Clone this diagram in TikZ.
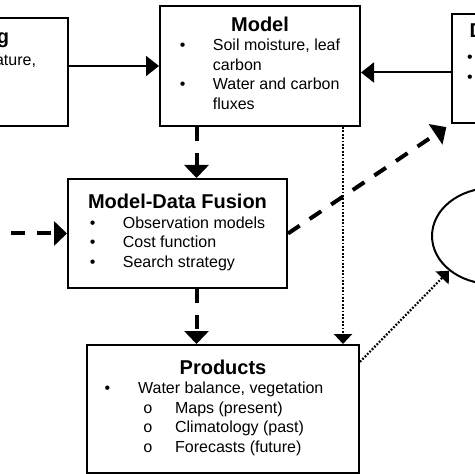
\documentclass[tikz,border=0pt]{standalone}
\usepackage{fontspec}
\setmainfont{Liberation Sans}
\newfontfamily\subbulletfont{Liberation Mono}
\usetikzlibrary{arrows.meta, positioning, calc, shapes.geometric}
\newcommand{\titlefont}{\fontsize{10}{12}\selectfont\bfseries}
\newcommand{\listfont}{\fontsize{8}{9.75}\selectfont}
\tikzset{
    box/.style={rectangle, draw=black, line width=1pt, fill=white, inner sep=0pt, align=center, font=\listfont},
    cut/.style={inner sep=0pt, outer sep=0pt},
    arrow/.style={-{Triangle[length=6.5pt, width=10pt]}, line width=1pt, draw=black},
    dashedarrow/.style={-{Triangle[length=6.5pt, width=12pt]}, line width=2pt, dash pattern=on 7pt off 6pt, draw=black},
    dottedarrow/.style={-{Triangle[length=5pt, width=9pt]}, line width=1.1pt, dash pattern=on 0.9pt off 0.8pt, draw=black}
}

\begin{document}
\begin{tikzpicture}[x=0.5pt, y=-0.5pt]
        \useasboundingbox (0,0) rectangle (474,474);
        % boxes cut by the page edges
        \node[box, minimum width=74pt, minimum height=54pt] (inputs) at (-6,72) {};
        \node[cut, anchor=base east, font=\titlefont] (inputstitle) at (9,44) {g};
        \node[cut, anchor=base east, font=\listfont] (inputsline) at (36,66) {ature,};
        \node[box, minimum width=59pt, minimum height=54.5pt] (obs) at (511,68.5) {};
        \node[cut, anchor=base west, font=\titlefont] (obstitle) at (469.5,38) {D};
        \foreach \y [count=\i] in {63,83}
            \node[cut, anchor=base west, font=\listfont] (obsbullet\i) at (467,\y) {•};
        \node[ellipse, draw=black, line width=1pt, minimum width=60pt, minimum height=48pt, inner sep=0pt] (apps) at (492,236) {};
        % main boxes
        \node[box, minimum width=100pt, minimum height=60pt] (model) at (260,66) {{\titlefont Model}\\
            \begin{tabular}[t]{@{}p{16.5pt}@{}l@{}}
                • & Soil moisture, leaf\\
                  & carbon\\
                • & Water and carbon\\
                  & fluxes
            \end{tabular}};
        \node[box, minimum width=109.5pt, minimum height=54.5pt] (fusion) at (177.5,233.5) {{\titlefont Model-Data Fusion}\\
            \begin{tabular}[t]{@{}p{16.5pt}@{}l@{}}
                • & Observation models\\
                • & Cost function\\
                • & Search strategy
            \end{tabular}};
        \node[box, minimum width=136pt, minimum height=64pt] (products) at (223,409) {{\titlefont Products}\\
            \begin{tabular}[t]{@{}p{16.75pt}@{}p{18.5pt}@{}l@{}}
                • & \multicolumn{2}{@{}l@{}}{Water balance, vegetation}\\
                  & \hspace{2.5pt}{\subbulletfont o} & Maps (present)\\
                  & \hspace{2.5pt}{\subbulletfont o} & Climatology (past)\\
                  & \hspace{2.5pt}{\subbulletfont o} & Forecasts (future)
            \end{tabular}\kern9pt};
        % connectors
        \coordinate (modelout) at ([xshift=9.5pt]fusion.north);
        \coordinate (fusionout) at ([xshift=9.5pt]fusion.south);
        \coordinate (fusionin) at ([xshift=-80pt]fusion.west);
        \coordinate (modeltap) at ([xshift=-9pt]model.south east);
        \draw[arrow] (inputs.east |- model.west) -- (model.west);
        \draw[arrow] ([yshift=-2pt]obs.west) -- ([yshift=-2pt]obs.west -| model.east);
        \draw[dashedarrow] (modelout |- model.south) -- (modelout);
        \draw[dashedarrow] (fusionout) -- (fusionout |- products.north);
        \draw[dashedarrow] (fusionin) -- (fusion.west);
        \draw[dottedarrow] (modeltap) -- (modeltap |- products.north);
        \draw[dashedarrow, shorten >=2.8pt] (fusion.east) -- (obs.south west);
        \draw[dottedarrow] (products.19) -- (apps.219);
    \end{tikzpicture}
\end{document}
